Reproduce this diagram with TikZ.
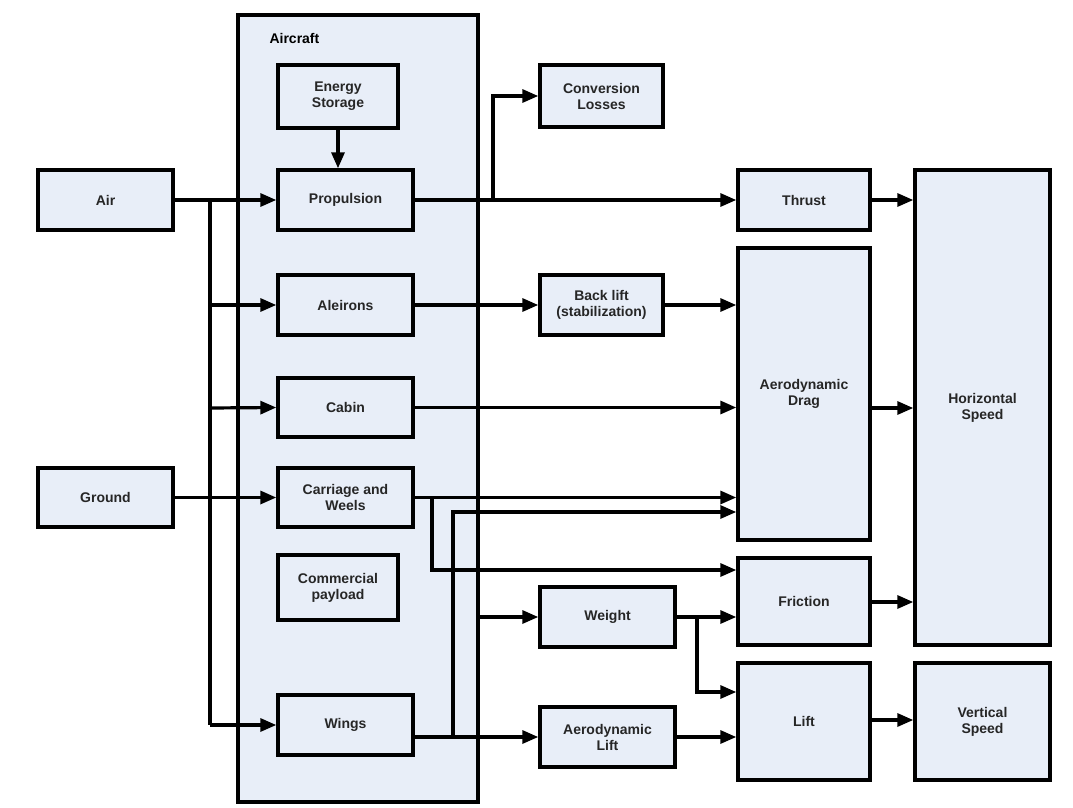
\documentclass[tikz,border=0pt]{standalone}
\usepackage{fontspec}
\setmainfont{Liberation Sans}
\usetikzlibrary{arrows.meta}
\definecolor{boxfill}{HTML}{E8EEF8}
\begin{document}
\begin{tikzpicture}[x=1pt,y=-1pt,
  font=\fontsize{14}{16}\selectfont\bfseries,
  box/.style={draw, line width=3.4pt, fill=boxfill, align=center, text=black!85},
  ar/.style={line width=3.2pt, -{Triangle[length=16pt,width=13pt]}},
  ln/.style={line width=3.2pt}]
\useasboundingbox[fill=white] (0,0) rectangle (1073,808);
\newcommand\bx[6]{\node[box, minimum width=#4-#2, minimum height=#5-#3] (#1) at ({(#2+#4)/2},{(#3+#5)/2}) {#6};}
\node[draw, line width=3.4pt, fill=boxfill, minimum width=240, minimum height=787] (ac) at (358,408.5) {};
\node[anchor=west] (acl) at (266,38) {Aircraft};
\bx{es}{278}{65}{398}{128}{Energy\\Storage}
\bx{prop}{278}{170}{413}{230}{Propulsion}
\bx{ail}{278}{275}{413}{335}{Aleirons}
\bx{cab}{278}{378}{413}{437}{Cabin}
\bx{car}{278}{468}{413}{527}{Carriage and\\Weels}
\bx{pay}{278}{555}{398}{620}{Commercial\\payload}
\bx{wing}{278}{695}{413}{755}{Wings}
\bx{air}{38}{170}{173}{230}{Air}
\bx{gnd}{38}{468}{173}{527}{Ground}
\bx{conv}{540}{65}{663}{127}{Conversion\\Losses}
\bx{thr}{738}{170}{870}{230}{Thrust}
\bx{back}{540}{275}{663}{335}{Back lift\\(stabilization)}
\bx{drag}{738}{248}{870}{540}{Aerodynamic\\Drag}
\bx{hs}{915}{170}{1050}{645}{Horizontal\\Speed}
\bx{fric}{738}{558}{870}{645}{Friction}
\bx{wt}{540}{587}{675}{647}{Weight}
\bx{lift}{738}{663}{870}{780}{Lift}
\bx{alift}{540}{707}{675}{767}{Aerodynamic\\Lift}
\bx{vs}{915}{663}{1050}{780}{Vertical\\Speed}
% air branch
\coordinate (j1) at (210,200);
\coordinate (j1b) at (210,725);
\draw[ar] (air.east) -- (prop.west);
\draw[ln] (j1) -- (j1b);
\draw[ar] (210,305) -- (ail.west);
\draw[ar] (210,408) -- (cab.west);
\draw[ar] (j1b) -- (wing.west);
\draw[ar] (gnd.east) -- (car.west);
\draw[ar] (es.south) -- (es.south|-prop.north);
% propulsion
\draw[ar] (prop.east) -- (thr.west);
\coordinate (j2) at (493,200);
\draw[ar] (j2) |- (conv.west);
\draw[ar] (ail.east) -- (back.west);
\draw[ar] (back.east) -- (back.east-|drag.west);
\draw[ar] (cab.east) -- (cab.east-|drag.west);
\draw[ar] (car.east) -- (car.east-|drag.west);
\coordinate (j3) at (432,497);
\draw[ar] (j3) |- (fric.west|-0,570);
\coordinate (j4) at (453,737);
\draw[ar] (j4) |- (drag.west|-0,512);
\draw[ln] (wing.east|-0,737) -- (j4);
\draw[ar] (j4) -- (alift.west);
\draw[ar] (ac.east|-wt.west) -- (wt.west);
\draw[ar] (wt.east) -- (fric.west|-wt.east);
\coordinate (j5) at (697,617);
\draw[ar] (j5) |- (lift.west|-0,692);
\draw[ar] (alift.east) -- (lift.west|-alift.east);
\draw[ar] (thr.east) -- (hs.west|-thr.east);
\draw[ar] (drag.east|-0,408) -- (hs.west|-0,408);
\draw[ar] (fric.east|-0,602) -- (hs.west|-0,602);
\draw[ar] (lift.east|-0,720) -- (vs.west|-0,720);
\end{tikzpicture}
\end{document}
